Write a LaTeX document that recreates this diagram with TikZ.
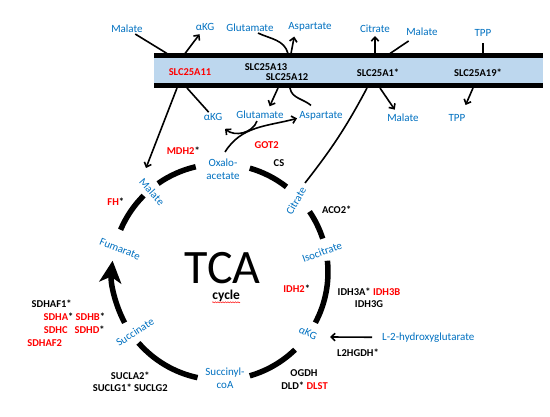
\documentclass[tikz,border=0pt]{standalone}
\usepackage{fontspec}
\setmainfont{Carlito}
\usetikzlibrary{arrows.meta,decorations.pathmorphing}
\definecolor{metblue}{RGB}{0,112,192}
\definecolor{genered}{RGB}{255,0,0}
\definecolor{membr}{RGB}{189,215,238}
\begin{document}
\begin{tikzpicture}[x=1pt,y=1pt,
  met/.style={text=metblue, font=\fontsize{11}{12.5}\selectfont, inner sep=1pt},
  gene/.style={font=\bfseries\fontsize{10.5}{12.5}\selectfont, inner sep=1pt},
  rgene/.style={gene, text=genered},
  conn/.style={line width=1.6pt},
  arr/.style={conn, -{Straight Barb[length=4pt,width=7.5pt]}},
  cyc/.style={line width=5.5pt},
]
\useasboundingbox (0,0) rectangle (550,416);
% membrane
\fill[membr] (154,333) rectangle (543,358);
\fill[black] (154,358) rectangle (543,362.5);
\fill[black] (154,328) rectangle (543,333);
% membrane contact points
\coordinate (t1) at (167,362.5);
\coordinate (t2) at (185,362.5);
\coordinate (t3) at (288,362.5);
\coordinate (t4) at (291,362.5);
\coordinate (t5) at (375,362.5);
\coordinate (t6) at (390,362.5);
\coordinate (t7) at (483,362.5);
\coordinate (b1) at (177,328);
\coordinate (b2) at (187,328);
\coordinate (b3) at (278,328);
\coordinate (b4) at (290,328);
\coordinate (b5) at (367,328);
\coordinate (b6) at (380,328);
\coordinate (b7) at (473,328);
% top metabolites
\node[met] (m1) at (127,387) {Malate};
\node[met] (m2) at (205,389) {αKG};
\node[met] (m3) at (250,388) {Glutamate};
\node[met] (m4) at (310,389) {Aspartate};
\node[met] (m5) at (375,387) {Citrate};
\node[met] (m6) at (422,384) {Malate};
\node[met] (m7) at (483,383) {TPP};
% carriers
\node[rgene] (s11) at (190,344) {SLC25A11};
\node[gene] (s13) at (266,349) {SLC25A13};
\node[gene] (s12) at (287,339) {SLC25A12};
\node[gene] (s1) at (378,343) {SLC25A1*};
\node[gene] (s19) at (478,343) {SLC25A19*};
% bottom metabolites
\node[met] (k2) at (213,299) {αKG};
\node[met] (g2) at (260,301) {Glutamate};
\node[met] (a2) at (321,300) {Aspartate};
\node[met] (m8) at (403,298) {Malate};
\node[met] (tpp2) at (457,298) {TPP};
% top connectors
\draw[conn] (m1) -- (t1);
\draw[arr, shorten >=3pt] (t2) -- (m2);
\draw[conn] ([xshift=8pt]m3.south) to[out=-25,in=105] (t3);
\draw[arr, shorten >=4pt] (t4) -- ([xshift=-15pt]m4.south);
\draw[arr, shorten >=2pt] (t5) -- (m5.south);
\draw[conn, shorten >=7pt] (t6) -- (m6);
\draw[conn, shorten >=5pt] (t7) -- (m7);
% circle labels
\node[met, align=center] (oxa) at (223,247) {Oxalo-\\acetate};
\node[met, rotate=60] (cit) at (296,215) {Citrate};
\node[met, rotate=20] (iso) at (322,164) {Isocitrate};
\node[met, rotate=-25] (akg) at (308,83) {αKG};
\node[met, align=center] (sca) at (225,38) {Succinyl-\\coA};
\node[met, rotate=33] (scn) at (135,84) {Succinate};
\node[met, rotate=-22] (fum) at (120,167) {Fumarate};
\node[met, rotate=-48] (mal) at (152,224) {Malate};
\coordinate (malin) at (146,248);
\coordinate (citout) at (305,233);
\coordinate (kgin) at (330,79);
\coordinate (oxs) at (225,264);
% bottom connectors
\draw[arr] (b1) -- (malin);
\draw[conn] (b2) -- (k2);
\draw[arr, shorten >=4pt] (b3) -- ([xshift=8pt]g2.north);
\draw[conn] (b4) to[out=-80,in=140] ([shift={(-10pt,5pt)}]a2.north);
\draw[conn] (b5) to[out=242,in=52] (citout);
\draw[arr, shorten >=4pt] (b6) -- ([xshift=-6pt]m8.north);
\draw[arr, shorten >=9pt] (b7) -- ([xshift=5pt]tpp2.north);
% GOT2 reaction
\draw[arr] (oxs) to[out=58,in=195] ([shift={(-24pt,-8pt)}]a2.north);
\draw[arr] ([xshift=-3pt,yshift=-1pt]g2.south) to[out=250,in=320] ([shift={(12pt,-7pt)}]k2.south);
% TCA cycle
\draw[cyc] (220,144) ++(103:108) arc[start angle=103, end angle=125, radius=108];
\draw[cyc] (220,144) ++(52:108) arc[start angle=52, end angle=74, radius=108];
\draw[cyc] (220,144) ++(18:108) arc[start angle=18, end angle=34, radius=108];
\draw[cyc] (220,144) ++(-28:108) arc[start angle=-28, end angle=6, radius=108];
\draw[cyc] (220,144) ++(-74:108) arc[start angle=-74, end angle=-46, radius=108];
\draw[cyc] (220,144) ++(221:108) arc[start angle=221, end angle=258, radius=108];
\draw[cyc, -{Stealth[length=22pt,width=22pt,inset=6pt]}] (220,144) ++(208:108) arc[start angle=208, end angle=174, radius=108];
\draw[cyc] (220,144) ++(135:108) arc[start angle=135, end angle=157, radius=108];
\node[font=\fontsize{48}{50}\selectfont, inner sep=0] (tca) at (222.5,148) {TCA};
\node[font=\bfseries\fontsize{13.5}{15}\selectfont, inner sep=0, anchor=base] (cyclabel) at (226.2,116.7) {cycle};
\draw[genered, line width=0.5pt, decorate, decoration={snake, amplitude=0.5pt, segment length=2.5pt}] ([yshift=-3pt]cyclabel.base west) -- ([yshift=-3pt]cyclabel.base east);
% enzymes
\node[rgene] (mdh) at (183.3,265.3) {MDH2\textcolor{black}{*}};
\node[rgene] (got) at (266.7,271) {GOT2};
\node[gene] (cs) at (279,253.3) {CS};
\node[gene] (aco) at (336.7,206) {ACO2*};
\node[rgene] (idh2) at (296.7,127.7) {IDH2\textcolor{black}{*}};
\node[gene] (idh3a) at (369,124.3) {IDH3A* \textcolor{genered}{IDH3B}};
\node[gene] (idh3g) at (369,112) {IDH3G};
\node[met] (l2hg) at (428.3,78.7) {L-2-hydroxyglutarate};
\draw[arr, shorten <=9pt] (l2hg.west) -- (kgin);
\node[gene] (l2hgdh) at (358,63.3) {L2HGDH*};
\node[gene] (ogdh) at (304,43.3) {OGDH};
\node[gene] (dld) at (304.5,30) {DLD* \textcolor{genered}{DLST}};
\node[gene] (sucla) at (130.3,40.3) {SUCLA2*};
\node[gene] (suclg) at (130.3,28.3) {SUCLG1* SUCLG2};
\node[gene] (sdhaf1) at (51.7,112.7) {SDHAF1*};
\node[gene] (sdhab) at (74.3,99.3) {\textcolor{genered}{SDHA}* \textcolor{genered}{SDHB}*};
\node[gene] (sdhcd) at (74.3,86) {\textcolor{genered}{SDHC}\hskip 7pt\textcolor{genered}{SDHD}*};
\node[rgene] (sdhaf2) at (44.7,73.3) {SDHAF2};
\node[rgene] (fh) at (115.8,214.3) {FH\textcolor{black}{*}};
\end{tikzpicture}
\end{document}
